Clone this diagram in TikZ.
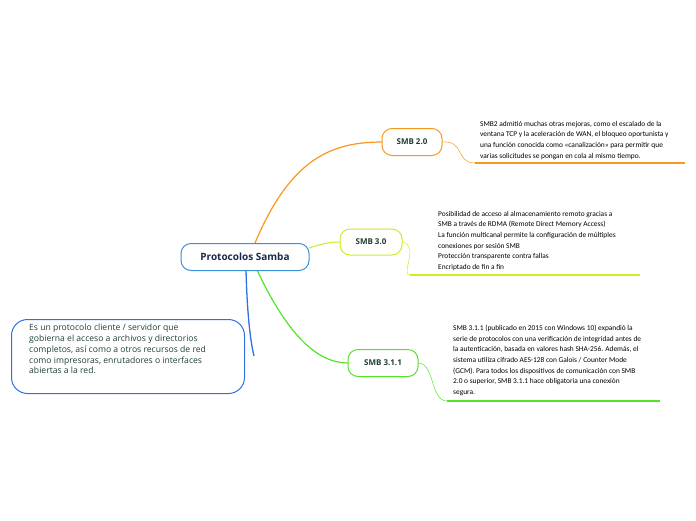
\documentclass[tikz,border=0pt]{standalone}
\usepackage{fontspec}
\setmainfont{Open Sans}
\newfontfamily\bodyfont{Carlito}
\definecolor{orng}{HTML}{F7981D}
\definecolor{ylw}{HTML}{CCEE22}
\definecolor{grn}{HTML}{55E22A}
\definecolor{blu}{HTML}{2F6FE8}
\definecolor{cblu}{HTML}{3C8FD8}
\definecolor{navy}{HTML}{1A2A4A}
\definecolor{dgreen}{HTML}{1F4030}
\begin{document}
\begin{tikzpicture}[x=1pt,y=-1pt,
  topic/.style={draw,line width=1pt,rounded corners=10pt,fill=white,font=\fontsize{8}{9}\selectfont\bfseries,text=dgreen,inner sep=0pt},
  para/.style={font=\bodyfont\fontsize{7.4}{10.6}\selectfont,align=left,anchor=north west,inner sep=0pt,text=black}]
\useasboundingbox (0,0) rectangle (696,520);
% connectors
\draw[orng,line width=1.2pt] (255,243) .. controls (290,160) and (330,142) .. (382,142);
\draw[ylw,line width=1pt] (309,248) .. controls (325,243) and (330,242) .. (340,242);
\draw[grn,line width=1.2pt] (257,270) .. controls (290,340) and (320,363) .. (348,363);
\draw[blu,line width=1.3pt] (246,270) .. controls (247,310) and (250,340) .. (254,356);
\draw[orng,line width=0.5pt] (442,142) .. controls (465,140) and (455,163) .. (475,163);
\draw[orng,line width=1.2pt] (475,163) -- (685,163);
\draw[ylw,line width=0.5pt] (402,242) .. controls (420,245) and (400,275) .. (410,275);
\draw[ylw,line width=1.2pt] (410,275) -- (640,275);
\draw[grn,line width=0.5pt] (418,363) .. controls (435,363) and (430,401) .. (447,401);
\draw[grn,line width=1.2pt] (447,401) -- (660,401);
% nodes
\node[topic,draw=cblu,minimum width=128pt,minimum height=27pt,text=navy,font=\fontsize{10}{12}\selectfont\bfseries] (root) at (245,257) {Protocolos Samba};
\node[topic,draw=orng,minimum width=60pt,minimum height=27pt] (s2) at (412,142) {SMB 2.0};
\node[topic,draw=ylw,minimum width=62pt,minimum height=26pt] (s3) at (371,242) {SMB 3.0};
\node[topic,draw=grn,minimum width=70pt,minimum height=27pt] (s31) at (383,363) {SMB 3.1.1};
\node[draw=blu,line width=1pt,rounded corners=16pt,minimum width=233pt,minimum height=74pt,anchor=north west,inner sep=0pt] (desc) at (11,319) {};
\node[anchor=north west,inner sep=0pt,align=left,font=\fontsize{8.6}{10.8}\selectfont,text=dgreen] (desct) at (29,324) {Es un protocolo cliente / servidor que\\gobierna el acceso a archivos y directorios\\completos, así como a otros recursos de red\\como impresoras, enrutadores o interfaces\\abiertas a la red.};
\node[para] (t2) at (480,121) {SMB2 admitió muchas otras mejoras, como el escalado de la\\ventana TCP y la aceleración de WAN, el bloqueo oportunista y\\una función conocida como «canalización» para permitir que\\varias solicitudes se pongan en cola al mismo tiempo.};
\node[para] (t3) at (438,211) {Posibilidad de acceso al almacenamiento remoto gracias a\\SMB a través de RDMA (Remote Direct Memory Access)\\La función multicanal permite la configuración de múltiples\\conexiones por sesión SMB\\Protección transparente contra fallas\\Encriptado de fin a fin};
\node[para] (t31) at (453,325) {SMB 3.1.1 (publicado en 2015 con Windows 10) expandió la\\serie de protocolos con una verificación de integridad antes de\\la autenticación, basada en valores hash SHA-256. Además, el\\sistema utiliza cifrado AES-128 con Galois / Counter Mode\\(GCM). Para todos los dispositivos de comunicación con SMB\\2.0 o superior, SMB 3.1.1 hace obligatoria una conexión\\segura.};
\end{tikzpicture}
\end{document}
